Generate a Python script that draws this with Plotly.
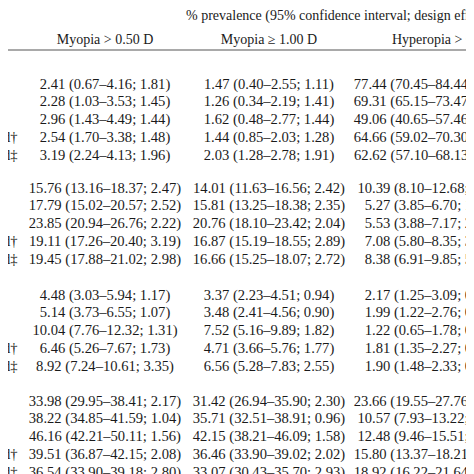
import plotly.graph_objects as go

col1 = ["2.41 (0.67–4.16; 1.81)", "2.28 (1.03–3.53; 1.45)", "2.96 (1.43–4.49; 1.44)", "2.54 (1.70–3.38; 1.48)", "3.19 (2.24–4.13; 1.96)",
        "15.76 (13.16–18.37; 2.47)", "17.79 (15.02–20.57; 2.52)", "23.85 (20.94–26.76; 2.22)", "19.11 (17.26–20.40; 3.19)", "19.45 (17.88–21.02; 2.98)",
        "4.48 (3.03–5.94; 1.17)", "5.14 (3.73–6.55; 1.07)", "10.04 (7.76–12.32; 1.31)", "6.46 (5.26–7.67; 1.73)", "8.92 (7.24–10.61; 3.35)",
        "33.98 (29.95–38.41; 2.17)", "38.22 (34.85–41.59; 1.04)", "46.16 (42.21–50.11; 1.56)", "39.51 (36.87–42.15; 2.08)", "36.54 (33.90–39.18; 2.80)"]
col2 = ["1.47 (0.40–2.55; 1.11)", "1.26 (0.34–2.19; 1.41)", "1.62 (0.48–2.77; 1.44)", "1.44 (0.85–2.03; 1.28)", "2.03 (1.28–2.78; 1.91)",
        "14.01 (11.63–16.56; 2.42)", "15.81 (13.25–18.38; 2.35)", "20.76 (18.10–23.42; 2.04)", "16.87 (15.19–18.55; 2.89)", "16.66 (15.25–18.07; 2.72)",
        "3.37 (2.23–4.51; 0.94)", "3.48 (2.41–4.56; 0.90)", "7.52 (5.16–9.89; 1.82)", "4.71 (3.66–5.76; 1.77)", "6.56 (5.28–7.83; 2.55)",
        "31.42 (26.94–35.90; 2.30)", "35.71 (32.51–38.91; 0.96)", "42.15 (38.21–46.09; 1.58)", "36.46 (33.90–39.02; 2.02)", "33.07 (30.43–35.70; 2.93)"]
col3 = ["77.44 (70.45–84.44; 1.93)", "69.31 (65.15–73.47; 1.02)", "49.06 (40.65–57.46; 1.56)", "64.66 (59.02–70.30; 1.88)", "62.62 (57.10–68.13; 2.11)",
        "10.39 (8.10–12.68; 2.47)", "5.27 (3.85–6.70; 1.95)", "5.53 (3.88–7.17; 2.41)", "7.08 (5.80–8.35; 3.51)", "8.38 (6.91–9.85; 5.31)",
        "2.17 (1.25–3.09; 0.95)", "1.99 (1.22–2.76; 0.74)", "1.22 (0.65–1.78; 0.62)", "1.81 (1.35–2.27; 0.86)", "1.90 (1.48–2.33; 0.97)",
        "23.66 (19.55–27.76; 1.81)", "10.57 (7.93–13.22; 1.21)", "12.48 (9.46–15.51; 2.01)", "15.80 (13.37–18.21; 2.02)", "18.92 (16.22–21.64; 2.86)"]
row_labels = ["", "", "", "d†", "d‡"] * 4
headers = ["Myopia > 0.50 D", "Myopia ≥ 1.00 D", "Hyperopia > 0.50 D"]
title = "% prevalence (95% confidence interval; design effect)"

group_top = [77, 181, 288, 394]
row_step = 17.8
ys = [group_top[i // 5] + (i % 5) * row_step for i in range(20)]
ink = "#1a1a1a"
font = dict(family="Liberation Serif", size=14.6, color=ink)

fig = go.Figure()
for cx, col in [(97, col1), (261, col2), (422, col3)]:
    fig.add_trace(go.Scatter(x=[cx] * len(col), y=ys, mode="text", text=col,
                             textposition="middle center", textfont=font, hoverinfo="skip"))
fig.add_trace(go.Scatter(x=[-5] * 20, y=ys, mode="text", text=row_labels,
                         textposition="middle right", textfont=font, hoverinfo="skip"))
fig.add_trace(go.Scatter(x=[97, 261, 440], y=[32, 32, 32], mode="text", text=headers,
                         textposition="middle center", textfont=dict(family="Liberation Serif", size=14, color=ink), hoverinfo="skip"))
fig.add_trace(go.Scatter(x=[178], y=[8], mode="text", text=[title],
                         textposition="middle right", textfont=dict(family="Liberation Serif", size=14, color=ink), hoverinfo="skip"))
fig.add_shape(type="line", x0=0, x1=474, y0=42, y1=42, line=dict(color="#555", width=1.2))

fig.update_layout(width=474, height=474, margin=dict(l=0, r=0, t=0, b=0),
                  plot_bgcolor="white", paper_bgcolor="white", showlegend=False,
                  xaxis=dict(range=[0, 474], visible=False, fixedrange=True),
                  yaxis=dict(range=[474, 0], visible=False, fixedrange=True))
fig.write_html("out.html", config={"displayModeBar": False})
